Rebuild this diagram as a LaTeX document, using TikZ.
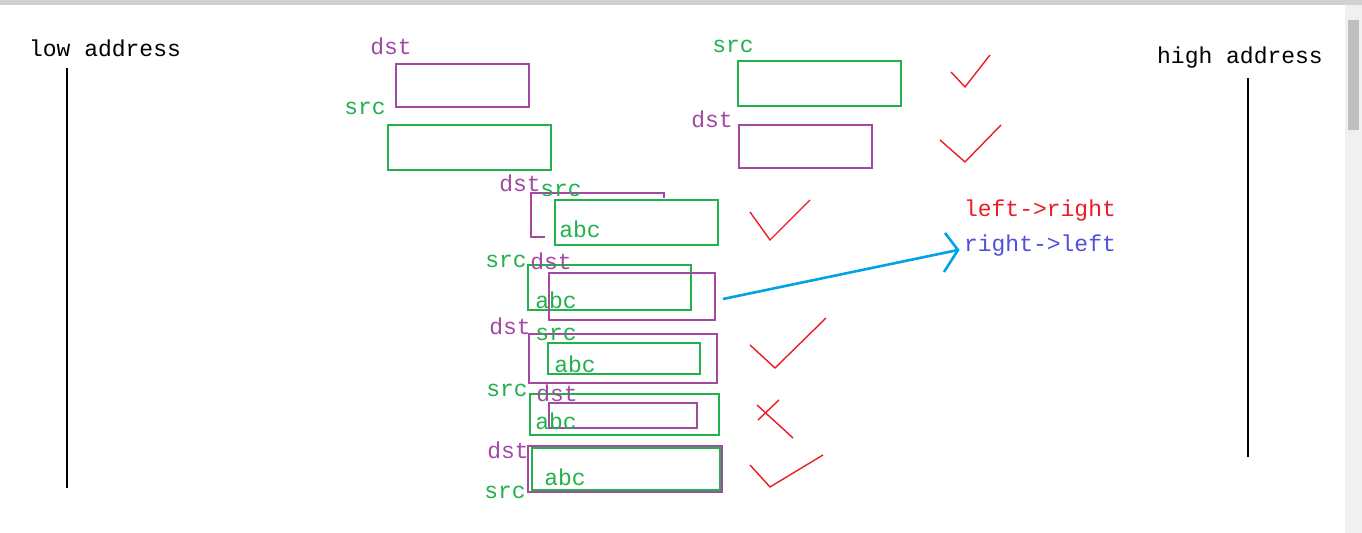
\documentclass[tikz,border=0pt]{standalone}
\usepackage{fontspec}
\setmainfont{Liberation Mono}
\begin{document}
\begin{tikzpicture}[x=0.5pt,y=-0.5pt,
  lbl/.style={font=\fontsize{11.5}{13}\selectfont,inner sep=0pt},
  pbox/.style={draw=pur,line width=1.3pt},
  gbox/.style={draw=grn,line width=1.3pt},
  chk/.style={draw=chkred,line width=0.7pt}]
\definecolor{pur}{RGB}{163,73,164}
\definecolor{grn}{RGB}{34,177,76}
\definecolor{chkred}{RGB}{237,28,36}
\definecolor{bluetxt}{RGB}{80,80,220}
\definecolor{arr}{RGB}{0,162,232}
\useasboundingbox (0,0) rectangle (1362,533);
\fill[white] (0,0) rectangle (1362,533);
\fill[black!18] (0,0) rectangle (1362,5);
\fill[black!6] (1345,5) rectangle (1362,533);
\fill[black!25] (1348,20) rectangle (1359,130);
% axis lines
\draw[line width=1.3pt] (67,68) -- (67,488);
\draw[line width=1.3pt] (1248,78) -- (1248,457);
\node[lbl,text=black] (lo) at (105,48) {low address};
\node[lbl,text=black] (hi) at (1240,58) {high address};
% top-left pair
\draw[pbox] (396,64) rectangle (529,107);
\node[lbl,text=pur] at (391,46) {dst};
\draw[gbox] (388,125) rectangle (551,170);
\node[lbl,text=grn] at (365,108) {src};
% top-right pair
\draw[gbox] (738,61) rectangle (901,106);
\node[lbl,text=grn] at (733,46) {src};
\draw[pbox] (739,125) rectangle (872,168);
\node[lbl,text=pur] at (712,119) {dst};
% row 3
\draw[pbox] (545,237) -- (531,237) -- (531,193) -- (664,193) -- (664,198);
\draw[gbox] (555,200) rectangle (718,245);
\node[lbl,text=pur] at (520,183) {dst};
\node[lbl,text=grn] at (561,190) {src};
\node[lbl,text=grn] at (580,229) {abc};
% row 4
\draw[gbox] (528,265) rectangle (691,310);
\draw[pbox] (549,273) rectangle (715,320);
\node[lbl,text=grn] at (506,261) {src};
\node[lbl,text=pur] at (551,261) {dst};
\node[lbl,text=grn] at (556,300) {abc};
% row 5
\draw[pbox] (529,334) rectangle (717,383);
\draw[gbox] (548,343) rectangle (700,374);
\node[lbl,text=pur] at (510,326) {dst};
\node[lbl,text=grn] at (556,334) {src};
\node[lbl,text=grn] at (575,364) {abc};
% row 6
\draw[gbox] (530,394) rectangle (719,435);
\draw[pbox] (549,403) rectangle (697,428);
\node[lbl,text=grn] at (507,390) {src};
\node[lbl,text=pur] at (557,393) {dst};
\node[lbl,text=grn] at (556,421) {abc};
% row 7
\draw[pbox] (528,446) rectangle (722,492);
\draw[gbox] (532,448) rectangle (720,490);
\node[lbl,text=pur] at (508,450) {dst};
\node[lbl,text=grn] at (505,492) {src};
\node[lbl,text=grn] at (565,477) {abc};
% marks
\draw[chk] (951,72) -- (965,87) -- (990,55);
\draw[chk] (940,140) -- (965,162) -- (1001,125);
\draw[chk] (750,212) -- (770,240) -- (810,200);
\draw[chk] (750,345) -- (775,368) -- (826,318);
\draw[chk] (757,405) -- (793,438);
\draw[chk] (779,400) -- (758,420);
\draw[chk] (750,465) -- (770,487) -- (823,455);
% arrow
\coordinate (as) at (723,299);
\coordinate (ae) at (958,250);
\draw[arr,line width=1.3pt] (as) -- (ae);
\draw[arr,line width=1.3pt] (945,233) -- (ae) -- (944,272);
\node[lbl,text=chkred] (lr) at (1040,211) {left->right};
\node[lbl,text=bluetxt] (rl) at (1040,246) {right->left};
\end{tikzpicture}
\end{document}
